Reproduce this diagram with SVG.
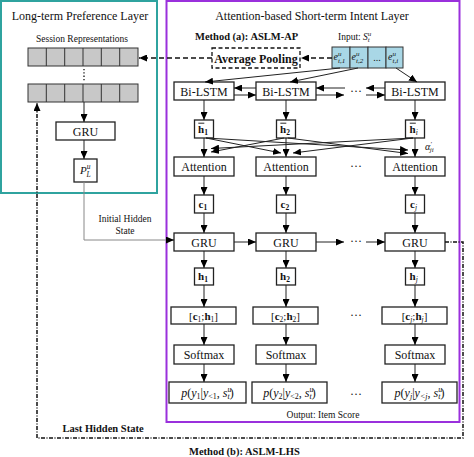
<svg xmlns="http://www.w3.org/2000/svg" width="474" height="457" viewBox="0 0 474 457" font-family="'Liberation Serif','DejaVu Serif',serif">
<defs>
<marker id="ah" markerWidth="8" markerHeight="7" refX="8" refY="3.5" orient="auto" markerUnits="userSpaceOnUse"><path d="M0,0 L8,3.5 L0,7 z" fill="#000"/></marker>
<style>
text{font-family:"Liberation Serif","DejaVu Serif",serif;fill:#111}
.t{font-size:12px;text-anchor:middle}
.s{font-size:9.5px;text-anchor:middle}
.b{font-weight:bold}
.i{font-style:italic}
.box{fill:#fff;stroke:#222;stroke-width:1.3}
.cell{fill:#c8c8c8;stroke:#333;stroke-width:1}
.in{fill:#a9d7e6;stroke:#333;stroke-width:1}
.ln{stroke:#222;stroke-width:1;fill:none}
.ar{stroke:#222;stroke-width:1;fill:none;marker-end:url(#ah)}
.dash{stroke:#111;stroke-width:1.5;fill:none;stroke-dasharray:5 3}
.dd{stroke:#111;stroke-width:1.5;fill:none;stroke-dasharray:4 1.5 1 1.5}
</style>
</defs>
<rect width="474" height="457" fill="#fff"/>
<g id="frames">
<rect x="1" y="1" width="156" height="192" fill="none" stroke="#2fa39f" stroke-width="2"/>
<rect x="166.5" y="1" width="293" height="421" fill="none" stroke="#9a30dc" stroke-width="2"/>
<text x="80" y="20" class="t">Long-term Preference Layer</text>
<text x="312" y="20" class="t">Attention-based Short-term Intent Layer</text>
</g>
<g id="session">
<text x="82" y="42" class="s">Session Representations</text>
<rect x="28" y="48" width="110" height="18" class="cell"/>
<path d="M46.3,48V66M64.7,48V66M83,48V66M101.3,48V66M119.7,48V66" stroke="#333" stroke-width="1"/>
<rect x="28" y="84" width="110" height="18" class="cell"/>
<path d="M46.3,84V102M64.7,84V102M83,84V102M101.3,84V102M119.7,84V102" stroke="#333" stroke-width="1"/>
<path d="M84,69V82" stroke="#111" stroke-width="1.3" stroke-dasharray="1.3 2"/>
</g>
<g id="gru-left"><rect x="56" y="122" width="59" height="18" class="box"/><text x="85.5" y="135.5" class="t">GRU</text></g>
<g id="pl"><rect x="74" y="159" width="23" height="23" class="box"/><text x="80" y="174" font-size="11px" class="i">P<tspan font-size="7.5px" dy="-5">u</tspan><tspan font-size="7.5px" dx="-4" dy="8">L</tspan></text></g>
<g id="method-a">
<text x="195" y="40" font-size="10.5px" class="b">Method (a):  ASLM-AP</text>
<rect x="212" y="48" width="88" height="20" fill="#fff" stroke="#111" stroke-width="1.3" stroke-dasharray="4 2.5"/>
<text x="256" y="62.5" font-size="11px" class="t b">Average Pooling</text>
</g>
<g id="input">
<text x="338" y="40" font-size="9.5px">Input: <tspan class="i">S</tspan><tspan class="i" font-size="7px" dy="-4">u</tspan><tspan class="i" font-size="7px" dx="-3.5" dy="6">t</tspan></text>
<rect x="332" y="47" width="18" height="21" class="in"/>
<rect x="350" y="47" width="18" height="21" class="in"/>
<rect x="368" y="47" width="18" height="21" class="in"/>
<rect x="386" y="47" width="17" height="21" class="in"/>
<text x="333.5" y="60" font-size="10px" class="i">e<tspan font-size="7px" dy="-4">u</tspan><tspan font-size="7px" dx="-3.5" dy="7">t,1</tspan></text>
<text x="351.5" y="60" font-size="10px" class="i">e<tspan font-size="7px" dy="-4">u</tspan><tspan font-size="7px" dx="-3.5" dy="7">t,2</tspan></text>
<text x="377" y="61" font-size="10px" text-anchor="middle">...</text>
<text x="388" y="60" font-size="10px" class="i">e<tspan font-size="7px" dy="-4">u</tspan><tspan font-size="7px" dx="-3.5" dy="7">t,i</tspan></text>
</g>
<g id="bilstm1"><rect x="174" y="82" width="60" height="18" class="box"/><text x="204" y="95.5" class="t">Bi-LSTM</text></g>
<g id="bilstm2"><rect x="256" y="82" width="60" height="18" class="box"/><text x="286" y="95.5" class="t">Bi-LSTM</text></g>
<g id="bilstmi"><rect x="385" y="82" width="60" height="18" class="box"/><text x="415" y="95.5" class="t">Bi-LSTM</text></g>
<text x="356" y="95" class="t">···</text>
<g id="hbar1"><rect x="194.5" y="120" width="19" height="18" class="box"/><text x="198" y="133" font-size="11px" class="b">h<tspan font-size="7.5px" dy="2">1</tspan></text><path d="M198.3,123.2h6" stroke="#111" stroke-width="0.9"/></g>
<g id="hbar2"><rect x="276.5" y="120" width="19" height="18" class="box"/><text x="280" y="133" font-size="11px" class="b">h<tspan font-size="7.5px" dy="2">2</tspan></text><path d="M280.3,123.2h6" stroke="#111" stroke-width="0.9"/></g>
<g id="hbari"><rect x="405.5" y="120" width="19" height="18" class="box"/><text x="409.5" y="133" font-size="11px" class="b">h<tspan font-size="7.5px" dy="2" font-weight="normal" class="i">i</tspan></text><path d="M409.8,123.2h6" stroke="#111" stroke-width="0.9"/></g>
<text x="425" y="150" font-size="10px" class="i">α<tspan font-size="7px" dy="-4">′</tspan><tspan font-size="7px" dx="-2" dy="6">ji</tspan></text>
<g id="att1"><rect x="174" y="157" width="60" height="19" class="box"/><text x="204" y="170.5" class="t">Attention</text></g>
<g id="att2"><rect x="256" y="157" width="60" height="19" class="box"/><text x="286" y="170.5" class="t">Attention</text></g>
<g id="atti"><rect x="385" y="157" width="60" height="19" class="box"/><text x="415" y="170.5" class="t">Attention</text></g>
<text x="356" y="170" class="t">···</text>
<g id="c1"><rect x="194.5" y="195" width="19" height="18" class="box"/><text x="198.5" y="207.5" font-size="11px" class="b">c<tspan font-size="7.5px" dy="2">1</tspan></text></g>
<g id="c2"><rect x="276.5" y="195" width="19" height="18" class="box"/><text x="280.5" y="207.5" font-size="11px" class="b">c<tspan font-size="7.5px" dy="2">2</tspan></text></g>
<g id="cj"><rect x="405.5" y="195" width="19" height="18" class="box"/><text x="410" y="207.5" font-size="11px" class="b">c<tspan font-size="7.5px" dy="2" font-weight="normal" class="i">j</tspan></text></g>
<g id="gru1"><rect x="174" y="233" width="60" height="18" class="box"/><text x="204" y="246.5" class="t">GRU</text></g>
<g id="gru2"><rect x="256" y="233" width="60" height="18" class="box"/><text x="286" y="246.5" class="t">GRU</text></g>
<g id="gruj"><rect x="385" y="233" width="60" height="18" class="box"/><text x="415" y="246.5" class="t">GRU</text></g>
<text x="356" y="245" class="t">···</text>
<g id="h1"><rect x="194.5" y="268" width="19" height="17" class="box"/><text x="198" y="280" font-size="11px" class="b">h<tspan font-size="7.5px" dy="2">1</tspan></text></g>
<g id="h2"><rect x="276.5" y="268" width="19" height="17" class="box"/><text x="280" y="280" font-size="11px" class="b">h<tspan font-size="7.5px" dy="2">2</tspan></text></g>
<g id="hj"><rect x="405.5" y="268" width="19" height="17" class="box"/><text x="409.5" y="280" font-size="11px" class="b">h<tspan font-size="7.5px" dy="2" font-weight="normal" class="i">j</tspan></text></g>
<g id="ch1"><rect x="171" y="307" width="65" height="17" class="box"/><text x="203.5" y="319.5" font-size="11px" text-anchor="middle">[<tspan class="b">c</tspan><tspan font-size="7.5px" dy="2">1</tspan><tspan dy="-2">;</tspan><tspan class="b">h</tspan><tspan font-size="7.5px" dy="2">1</tspan><tspan dy="-2">]</tspan></text></g>
<g id="ch2"><rect x="253" y="307" width="65" height="17" class="box"/><text x="285.5" y="319.5" font-size="11px" text-anchor="middle">[<tspan class="b">c</tspan><tspan font-size="7.5px" dy="2">2</tspan><tspan dy="-2">;</tspan><tspan class="b">h</tspan><tspan font-size="7.5px" dy="2">2</tspan><tspan dy="-2">]</tspan></text></g>
<g id="chj"><rect x="382" y="307" width="65" height="17" class="box"/><text x="414.5" y="319.5" font-size="11px" text-anchor="middle">[<tspan class="b">c</tspan><tspan font-size="7.5px" dy="2" class="i">j</tspan><tspan dy="-2">;</tspan><tspan class="b">h</tspan><tspan font-size="7.5px" dy="2" class="i">j</tspan><tspan dy="-2">]</tspan></text></g>
<text x="356" y="319" class="t">···</text>
<g id="sm1"><rect x="174" y="345" width="60" height="19" class="box"/><text x="204" y="358.5" class="t">Softmax</text></g>
<g id="sm2"><rect x="256" y="345" width="60" height="19" class="box"/><text x="286" y="358.5" class="t">Softmax</text></g>
<g id="smj"><rect x="385" y="345" width="60" height="19" class="box"/><text x="415" y="358.5" class="t">Softmax</text></g>
<g id="p1"><rect x="169" y="382" width="77" height="21" class="box"/><text x="207.5" y="396.5" font-size="12px" text-anchor="middle"><tspan class="i">p</tspan>(<tspan class="i">y</tspan><tspan font-size="8px" dy="2">1</tspan><tspan dy="-2">|</tspan><tspan class="i">y</tspan><tspan font-size="8px" dy="2">&lt;1</tspan><tspan dy="-2">, </tspan><tspan class="i">s</tspan><tspan class="i" font-size="8px" dy="-5">u</tspan><tspan class="i" font-size="8px" dx="-4" dy="7">t</tspan><tspan dy="-2">)</tspan></text></g>
<g id="p2"><rect x="252" y="382" width="75" height="21" class="box"/><text x="289.5" y="396.5" font-size="12px" text-anchor="middle"><tspan class="i">p</tspan>(<tspan class="i">y</tspan><tspan font-size="8px" dy="2">2</tspan><tspan dy="-2">|</tspan><tspan class="i">y</tspan><tspan font-size="8px" dy="2">&lt;2</tspan><tspan dy="-2">, </tspan><tspan class="i">s</tspan><tspan class="i" font-size="8px" dy="-5">u</tspan><tspan class="i" font-size="8px" dx="-4" dy="7">t</tspan><tspan dy="-2">)</tspan></text></g>
<g id="pj"><rect x="382" y="382" width="75" height="21" class="box"/><text x="419.5" y="396.5" font-size="12px" text-anchor="middle"><tspan class="i">p</tspan>(<tspan class="i">y</tspan><tspan font-size="8px" dy="2" class="i">j</tspan><tspan dy="-2">|</tspan><tspan class="i">y</tspan><tspan font-size="8px" dy="2" class="i">&lt;j</tspan><tspan dy="-2">, </tspan><tspan class="i">s</tspan><tspan class="i" font-size="8px" dy="-5">u</tspan><tspan class="i" font-size="8px" dx="-4" dy="7">t</tspan><tspan dy="-2">)</tspan></text></g>
<text x="356" y="398" class="t">···</text>
<text x="323" y="418" class="s">Output: Item Score</text>
<text x="125" y="222" class="s" font-size="9px">Initial Hidden</text>
<text x="125" y="234" class="s" font-size="9px">State</text>
<text x="103" y="432" font-size="10.5px" text-anchor="middle" class="b">Last Hidden State</text>
<text x="189" y="455" font-size="10.5px" class="b">Method (b):  ASLM-LHS</text>
<g id="connectors">
<path class="ar" d="M84,102V122"/>
<path class="ar" d="M84,140V159"/>
<path d="M84,182V240H166" stroke="#888" stroke-width="1" fill="none"/>
<path class="ar" d="M166,240H174"/>
<path class="dash" d="M212,58H139" marker-end="url(#ah)"/>
<path class="dash" d="M332,58H301" marker-end="url(#ah)"/>
<path class="ar" d="M340,68L205,82"/>
<path class="ar" d="M358,68L290,82"/>
<path class="ar" d="M396,68L417,82"/>
<path class="ar" d="M256,88H234"/>
<path class="ar" d="M234,95H256"/>
<path class="ar" d="M345,88H316"/>
<path class="ar" d="M316,95H344"/>
<path class="ar" d="M385,88H366"/>
<path class="ar" d="M366,95H385"/>
<path class="ar" d="M204,100V120"/>
<path class="ar" d="M286,100V120"/>
<path class="ar" d="M415,100V120"/>
<path class="ar" d="M204,138V157"/>
<path class="ar" d="M286,138V157"/>
<path class="ar" d="M415,138V157"/>
<path class="ar" d="M206,138L281,153"/>
<path class="ar" d="M206,138L408,150"/>
<path class="ar" d="M284,138L211,152"/>
<path class="ar" d="M288,138L408,153.5"/>
<path class="ar" d="M413,138L211,148.5"/>
<path class="ar" d="M413,138L293,153"/>
<path class="ar" d="M204,176V195"/>
<path class="ar" d="M286,176V195"/>
<path class="ar" d="M415,176V195"/>
<path class="ar" d="M204,213V233"/>
<path class="ar" d="M286,213V233"/>
<path class="ar" d="M415,213V233"/>
<path class="ar" d="M234,242H256"/>
<path class="ar" d="M316,242H344"/>
<path class="ar" d="M366,242H385"/>
<path class="ar" d="M204,251V268"/>
<path class="ar" d="M286,251V268"/>
<path class="ar" d="M415,251V268"/>
<path class="ar" d="M204,285V307"/>
<path class="ar" d="M286,285V307"/>
<path class="ar" d="M415,285V307"/>
<path class="ar" d="M204,324V345"/>
<path class="ar" d="M286,324V345"/>
<path class="ar" d="M415,324V345"/>
<path class="ar" d="M204,364V382"/>
<path class="ar" d="M286,364V382"/>
<path class="ar" d="M415,364V382"/>
<path class="dd" d="M445,242H463V438H37V110"/>
<path class="ar" d="M37,112V103" stroke-width="1.5"/>
</g>
</svg>
